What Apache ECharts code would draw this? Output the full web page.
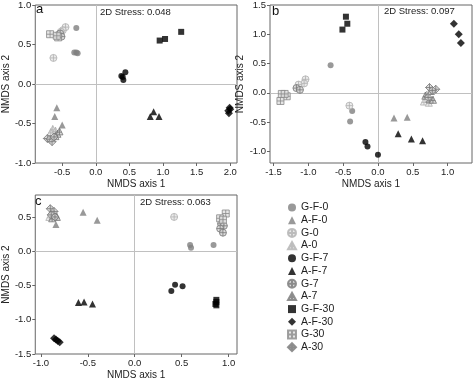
<!DOCTYPE html>
<html><head><meta charset="utf-8">
<script src="https://cdn.jsdelivr.net/npm/echarts@6/dist/echarts.min.js"></script>
<style>html,body{margin:0;padding:0;background:#fff}#c{width:474px;height:381px}</style>
</head><body><div id="c"></div>
<script>
var groupNames = ['G-F-0','A-F-0','G-0','A-0','G-F-7','A-F-7','G-7','A-7','G-F-30','A-F-30','G-30','A-30'];
var stressLabels = ['2D Stress: 0.048','2D Stress: 0.097','2D Stress: 0.063'];
var panelLabels = ['a','b','c'];
var aTicksX = [-0.5,0,0.5,1,1.5,2], aTicksY = [-1,-0.5,0,0.5,1];
var bTicksX = [-1.5,-1,-0.5,0,0.5,1], bTicksY = [-1,-0.5,0,0.5,1,1.5];
var cTicksX = [-1,-0.5,0,0.5,1], cTicksY = [-1.5,-1,-0.5,0,0.5];

// Panel a
var a_GF0 = [[-0.29,0.71],[-0.32,0.40],[-0.29,0.40],[-0.27,0.39]];
var a_AF0 = [[-0.58,-0.30],[-0.61,-0.41],[-0.50,-0.52]];
var a_G0 = [[-0.63,0.33],[-0.45,0.72],[-0.49,0.68],[-0.52,0.66]];
var a_A0 = [[-0.64,-0.57],[-0.60,-0.59],[-0.67,-0.61]];
var a_GF7 = [[0.44,0.15],[0.38,0.10],[0.41,0.05],[0.40,0.09]];
var a_AF7 = [[0.81,-0.41],[0.86,-0.35],[0.94,-0.41]];
var a_G7 = [[-0.56,0.62],[-0.53,0.64],[-0.51,0.60]];
var a_A7 = [[-0.57,-0.63],[-0.54,-0.60],[-0.60,-0.66]];
var a_GF30 = [[0.95,0.55],[1.03,0.57],[1.27,0.66]];
var a_AF30 = [[1.99,-0.30],[1.97,-0.34],[1.98,-0.37],[2.00,-0.32]];
var a_G30 = [[-0.68,0.63],[-0.56,0.59],[-0.58,0.61]];
var a_A30 = [[-0.72,-0.69],[-0.68,-0.70],[-0.65,-0.73],[-0.62,-0.67]];

// Panel b
var b_GF0 = [[-0.68,0.47],[-0.37,-0.31],[-0.40,-0.49]];
var b_AF0 = [[0.23,-0.43],[0.42,-0.42]];
var b_G0 = [[-0.41,-0.22],[-1.04,0.23],[-1.06,0.16],[-1.14,0.14]];
var b_A0 = [[0.66,-0.15],[0.73,-0.17],[0.70,-0.03]];
var b_GF7 = [[-0.18,-0.84],[-0.15,-0.92],[0.00,-1.06]];
var b_AF7 = [[0.29,-0.70],[0.48,-0.79],[0.64,-0.82]];
var b_G7 = [[-1.17,0.08],[-1.12,0.05]];
var b_A7 = [[0.74,-0.11],[0.79,-0.12],[0.68,-0.05],[0.76,0.03]];
var b_GF30 = [[-0.46,1.30],[-0.44,1.18],[-0.51,1.08]];
var b_AF30 = [[1.09,1.18],[1.16,1.00],[1.19,0.85]];
var b_G30 = [[-1.38,-0.02],[-1.31,-0.06],[-1.40,-0.14],[-1.34,-0.02]];
var b_A30 = [[0.74,0.09],[0.83,0.06],[0.78,0.04],[0.72,-0.08]];

// Panel c
var c_GF0 = [[0.59,0.09],[0.60,0.05],[0.84,0.09]];
var c_AF0 = [[-0.55,0.57],[-0.40,0.45],[-0.84,0.39]];
var c_G0 = [[0.42,0.50]];
var c_A0 = [[-0.88,0.60],[-0.84,0.52],[-0.91,0.50]];
var c_GF7 = [[0.39,-0.58],[0.43,-0.49],[0.51,-0.51]];
var c_AF7 = [[-0.60,-0.75],[-0.54,-0.74],[-0.45,-0.77]];
var c_G7 = [[0.92,0.40],[0.95,0.37],[0.91,0.33],[0.94,0.27]];
var c_A7 = [[-0.86,0.55],[-0.83,0.50],[-0.88,0.48]];
var c_GF30 = [[0.87,-0.71],[0.87,-0.74],[0.86,-0.77],[0.87,-0.79]];
var c_AF30 = [[-0.86,-1.27],[-0.84,-1.29],[-0.82,-1.31],[-0.80,-1.33]];
var c_G30 = [[0.97,0.55],[0.91,0.48],[0.94,0.46]];
var c_A30 = [[-0.90,0.62],[-0.86,0.58],[-0.89,0.53],[-0.85,0.50]];

var panels = [
  [a_GF0,a_AF0,a_G0,a_A0,a_GF7,a_AF7,a_G7,a_A7,a_GF30,a_AF30,a_G30,a_A30],
  [b_GF0,b_AF0,b_G0,b_A0,b_GF7,b_AF7,b_G7,b_A7,b_GF30,b_AF30,b_G30,b_A30],
  [c_GF0,c_AF0,c_G0,c_A0,c_GF7,c_AF7,c_G7,c_A7,c_GF30,c_AF30,c_G30,c_A30]
];

var P_CIRC = 'path://M10,0A10,10,0,1,1,9.99,0ZM10,0L10,20M0,10L20,10';
var P_TRI = 'path://M10,0L20,18L0,18ZM10,0L10,18M3,11L17,11';
var P_SQ = 'path://M0,0L20,0L20,20L0,20ZM10,0L10,20M0,10L20,10';
var P_DIA = 'path://M10,0L20,10L10,20L0,10ZM10,0L10,20M0,10L20,10';
var styles = [
  {symbol:'circle', size:6, item:{color:'#7f7f7f'}},
  {symbol:'triangle', size:7, item:{color:'#808080'}},
  {symbol:P_CIRC, size:7, item:{color:'#e6e6e6', borderColor:'#b0b0b0', borderWidth:1}},
  {symbol:P_TRI, size:7, item:{color:'#eaeaea', borderColor:'#b0b0b0', borderWidth:1}},
  {symbol:'circle', size:6, item:{color:'#000'}},
  {symbol:'triangle', size:7, item:{color:'#000'}},
  {symbol:P_CIRC, size:7, item:{color:'#d4d4d4', borderColor:'#777777', borderWidth:1}},
  {symbol:P_TRI, size:7, item:{color:'#d0d0d0', borderColor:'#777777', borderWidth:1}},
  {symbol:'rect', size:6, item:{color:'#000'}},
  {symbol:'diamond', size:8, item:{color:'#000'}},
  {symbol:P_SQ, size:7, item:{color:'#e0e0e0', borderColor:'#8a8a8a', borderWidth:1}},
  {symbol:P_DIA, size:8, item:{color:'#d4d4d4', borderColor:'#777777', borderWidth:1}}
];

var FONT = 'Liberation Sans, Arial, sans-serif';
var grids = [
  {left:33, top:5, width:204, height:158},
  {left:270, top:5, width:202, height:158},
  {left:33, top:195, width:204, height:160}
];
var xRanges = [[-0.9,2.1,aTicksX],[-1.55,1.35,bTicksX],[-1.06,1.09,cTicksX]];
var yRanges = [[-1,1,aTicksY],[-1.2,1.5,bTicksY],[-1.5,0.82,cTicksY]];

function fmt(v){ return (+v).toFixed(1); }
function axis(i, r, isX){
  return {
    type:'value', gridIndex:i, min:r[0], max:r[1],
    name: isX ? 'NMDS axis 1' : 'NMDS axis 2',
    nameLocation:'middle', nameGap: isX ? 16 : 23,
    nameTextStyle:{fontFamily:FONT, fontSize:10, color:'#222'},
    axisLine:{show:false, onZero:false},
    axisTick:{show:true, inside:false, length:3, customValues:r[2], lineStyle:{color:'#666'}},
    axisLabel:{show:true, customValues:r[2], formatter:fmt, fontFamily:FONT, fontSize:9.5, color:'#222', margin:4},
    splitLine:{show:false}
  };
}

var series = [];
panels.forEach(function(groups, p){
  groups.forEach(function(d, g){
    var s = {
      type:'scatter', name:groupNames[g], xAxisIndex:p, yAxisIndex:p,
      data:d, symbol:styles[g].symbol, symbolSize:styles[g].size,
      itemStyle:styles[g].item, z:3
    };
    if (g === 0) {
      s.markLine = {silent:true, symbol:'none', label:{show:false},
        lineStyle:{color:'#c0c0c0', width:1, type:'solid'},
        data:[{xAxis:0},{yAxis:0}], z:1};
    }
    series.push(s);
  });
});

var graphics = [];
var stressPos = [[100,12],[384,11],[140,202]];
var labelPos = [[36,10],[272,12],[35,202]];
for (var i=0;i<3;i++){
  graphics.push({type:'text', left:stressPos[i][0], top:stressPos[i][1]-5, z:10,
    style:{text:stressLabels[i], font:'9.5px '+FONT, fill:'#222'}});
  graphics.push({type:'text', left:labelPos[i][0], top:labelPos[i][1]-7, z:10,
    style:{text:panelLabels[i], font:'13px '+FONT, fill:'#111'}});
}

var chart = echarts.init(document.getElementById('c'), null, {renderer:'canvas'});
chart.setOption({
  animation:false,
  backgroundColor:'#fff',
  grid: grids.map(function(g){ return Object.assign({show:true, borderColor:'#666', borderWidth:1, backgroundColor:'transparent'}, g); }),
  xAxis: xRanges.map(function(r,i){ return axis(i,r,true); }),
  yAxis: yRanges.map(function(r,i){ return axis(i,r,false); }),
  legend:{
    data:groupNames, orient:'vertical', left:282, top:197, height:182, padding:[5,5,0,5],
    itemWidth:8, itemHeight:8, itemGap:1.7,
    textStyle:{fontFamily:FONT, fontSize:10.5, color:'#222', lineHeight:9},
    selectedMode:false
  },
  graphic:graphics,
  series:series
});
</script></body></html>
